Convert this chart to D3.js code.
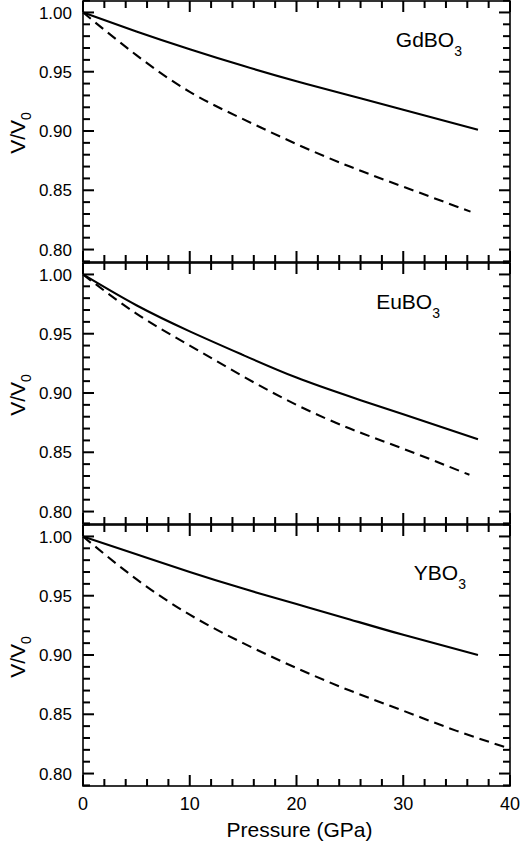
<!DOCTYPE html>
<html>
<head>
<meta charset="utf-8">
<script src="https://d3js.org/d3.v7.min.js"></script>
<style>
  body { margin: 0; background: #fff; }
</style>
</head>
<body>
<script>
// panel names (formula base, subscript 3)
const compounds = ["GdBO", "EuBO", "YBO"];

// curves: pressure (GPa) and V/V0
const gdSolidP = [0, 5, 10, 15, 20, 25, 30, 37];
const gdSolidV = [1.0, 0.984, 0.969, 0.955, 0.942, 0.930, 0.918, 0.901];
const gdDashP = [0, 5, 10, 15, 20, 25, 30, 36.3];
const gdDashV = [1.0, 0.964, 0.933, 0.910, 0.889, 0.870, 0.853, 0.832];

const euSolidP = [0, 5, 10, 15, 20, 25, 30, 37];
const euSolidV = [1.0, 0.974, 0.952, 0.932, 0.913, 0.897, 0.882, 0.861];
const euDashP = [0, 5, 10, 15, 20, 25, 30, 36.2];
const euDashV = [1.0, 0.967, 0.940, 0.914, 0.890, 0.870, 0.853, 0.831];

const ySolidP = [0, 5, 10, 15, 20, 25, 30, 37];
const ySolidV = [1.0, 0.985, 0.970, 0.956, 0.943, 0.930, 0.917, 0.900];
const yDashP = [0, 5, 10, 15, 20, 25, 30, 35, 40];
const yDashV = [1.0, 0.964, 0.934, 0.910, 0.889, 0.870, 0.853, 0.836, 0.821];

const xTicks = [0, 10, 20, 30, 40];
const xMinorTicks = [2, 4, 6, 8, 12, 14, 16, 18, 22, 24, 26, 28, 32, 34, 36, 38];
const yTicks = [0.80, 0.85, 0.90, 0.95, 1.00];
const yMinorTicks = [0.79, 0.81, 0.82, 0.83, 0.84, 0.86, 0.87, 0.88, 0.89, 0.91, 0.92, 0.93, 0.94, 0.96, 0.97, 0.98, 0.99, 1.01];

const panels = [
  { name: compounds[0], solid: [gdSolidP, gdSolidV], dash: [gdDashP, gdDashV], lx: 462, ly: 47 },
  { name: compounds[1], solid: [euSolidP, euSolidV], dash: [euDashP, euDashV], lx: 440, ly: 47 },
  { name: compounds[2], solid: [ySolidP, ySolidV], dash: [yDashP, yDashV], lx: 466, ly: 56 }
];

const W = 520, H = 844;
const left = 83, right = 510, ph = 262;
const font = "Liberation Sans, Arial, Helvetica, sans-serif";

const svg = d3.select("body").append("svg")
  .attr("width", W).attr("height", H);

const x = d3.scaleLinear().domain([0, 40]).range([left, right]);

panels.forEach((p, i) => {
  const t = i * ph;
  const y = d3.scaleLinear().domain([0.7895, 1.0105]).range([t + ph, t]);
  const g = svg.append("g");

  // frame
  g.append("rect").attr("x", left).attr("y", t + 1)
    .attr("width", right - left).attr("height", ph - 1)
    .attr("fill", "none").attr("stroke", "#000").attr("stroke-width", 1.6);

  // tick marks pointing into the frame, as thin filled rects
  const tw = 2;
  const tickG = g.append("g").attr("fill", "#000");
  [[xTicks, 11], [xMinorTicks, 7]].forEach(([vals, n]) => {
    tickG.selectAll(null).data(vals).join("rect")
      .attr("x", d => x(d) - tw / 2).attr("y", t + ph - n).attr("width", tw).attr("height", n);
    tickG.selectAll(null).data(vals).join("rect")
      .attr("x", d => x(d) - tw / 2).attr("y", t + 1).attr("width", tw).attr("height", n);
  });
  [[yTicks, 11], [yMinorTicks, 7]].forEach(([vals, n]) => {
    tickG.selectAll(null).data(vals).join("rect")
      .attr("x", left).attr("y", d => y(d) - tw / 2).attr("width", n).attr("height", tw);
    tickG.selectAll(null).data(vals).join("rect")
      .attr("x", right - n).attr("y", d => y(d) - tw / 2).attr("width", n).attr("height", tw);
  });

  // y tick labels
  g.append("g").selectAll("text").data(yTicks).join("text")
    .attr("x", 72).attr("y", d => y(d)).attr("dy", "0.36em")
    .attr("text-anchor", "end").attr("font-family", font).attr("font-size", 17)
    .text(d3.format(".2f"));

  // y axis title
  const yt = g.append("text")
    .attr("transform", `translate(25,${t + ph / 2 + 2}) rotate(-90)`)
    .attr("text-anchor", "middle").attr("font-family", font).attr("font-size", 21);
  yt.append("tspan").text("V/V");
  yt.append("tspan").attr("font-size", 14).attr("dy", 6).text("0");

  // curves
  const line = d3.line().x(d => x(d[0])).y(d => y(d[1])).curve(d3.curveNatural);
  const solid = p.solid[0].map((v, k) => [v, p.solid[1][k]]);
  const dash = p.dash[0].map((v, k) => [v, p.dash[1][k]]);
  g.append("path").datum(solid).attr("d", line)
    .attr("fill", "none").attr("stroke", "#000").attr("stroke-width", 2.1);
  g.append("path").datum(dash).attr("d", line)
    .attr("fill", "none").attr("stroke", "#000").attr("stroke-width", 2.1)
    .attr("stroke-dasharray", "10,6");

  // compound label
  const lab = g.append("text").attr("x", p.lx).attr("y", t + p.ly)
    .attr("text-anchor", "end").attr("font-family", font).attr("font-size", 21);
  lab.append("tspan").text(p.name);
  lab.append("tspan").attr("font-size", 14).attr("dy", 9).text("3");
});

// x tick labels
svg.append("g").selectAll("text").data(xTicks).join("text")
  .attr("x", d => x(d)).attr("y", 810)
  .attr("text-anchor", "middle").attr("font-family", font).attr("font-size", 18)
  .text(d => d);

svg.append("text").attr("x", (left + right) / 2 + 3).attr("y", 837)
  .attr("text-anchor", "middle").attr("font-family", font).attr("font-size", 21)
  .text("Pressure (GPa)");
</script>
</body>
</html>
